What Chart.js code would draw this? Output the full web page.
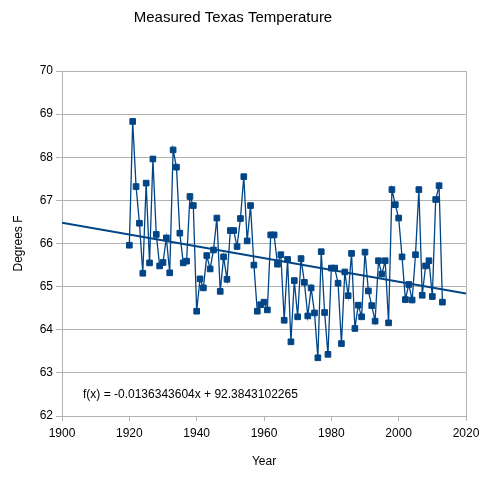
<!DOCTYPE html>
<html>
<head>
<meta charset="utf-8">
<script src="https://cdn.jsdelivr.net/npm/chart.js@4.4.1/dist/chart.umd.min.js"></script>
<style>
  html, body { margin: 0; padding: 0; background: #ffffff; }
  #wrap { width: 489px; height: 481px; }
</style>
</head>
<body>
<div id="wrap"><canvas id="c" width="489" height="481"></canvas></div>
<script>
const years = [1920,1921,1922,1923,1924,1925,1926,1927,1928,1929,
  1930,1931,1932,1933,1934,1935,1936,1937,1938,1939,
  1940,1941,1942,1943,1944,1945,1946,1947,1948,1949,
  1950,1951,1952,1953,1954,1955,1956,1957,1958,1959,
  1960,1961,1962,1963,1964,1965,1966,1967,1968,1969,
  1970,1971,1972,1973,1974,1975,1976,1977,1978,1979,
  1980,1981,1982,1983,1984,1985,1986,1987,1988,1989,
  1990,1991,1992,1993,1994,1995,1996,1997,1998,1999,
  2000,2001,2002,2003,2004,2005,2006,2007,2008,2009,
  2010,2011,2012,2013];
const temps = [65.96,68.83,67.32,66.47,65.31,67.40,65.55,67.96,66.21,65.48,
  65.56,66.13,65.32,68.17,67.77,66.24,65.55,65.59,67.09,66.88,
  64.43,65.18,64.97,65.72,65.41,65.85,66.59,64.89,65.69,65.17,
  66.30,66.30,65.93,66.58,67.55,66.06,66.88,65.50,64.43,64.58,
  64.64,64.46,66.20,66.20,65.52,65.74,64.22,65.63,63.72,65.14,
  64.30,65.65,65.10,64.32,64.97,64.39,63.35,65.81,64.40,63.43,
  65.43,65.43,65.08,63.68,65.34,64.79,65.77,64.03,64.57,64.30,
  65.80,64.90,64.56,64.20,65.60,65.29,65.60,64.16,67.25,66.90,
  66.59,65.69,64.70,65.05,64.69,65.74,67.25,64.80,65.48,65.60,
  64.77,67.02,67.34,64.64];
const trendSlope = -0.0136343604;
const trendIntercept = 92.3843102265;
const trendYears = [1900, 2020];
const xTicks = [1900, 1920, 1940, 1960, 1980, 2000, 2020];
const yTicks = [62, 63, 64, 65, 66, 67, 68, 69, 70];
const titleText = 'Measured Texas Temperature';
const xTitle = 'Year';
const yTitle = 'Degrees F';
const equationText = 'f(x) = -0.0136343604x + 92.3843102265';

const BLUE = '#004586';
const GRID = '#b3b3b3';
const FONT = "'Liberation Sans', Arial, sans-serif";

const points = years.map((y, i) => ({ x: y, y: temps[i] }));
const trend = trendYears.map(y => ({ x: y, y: trendSlope * y + trendIntercept }));

const framePlugin = {
  id: 'frame',
  beforeDatasetsDraw(chart) {
    const { ctx, chartArea: a } = chart;
    ctx.save();
    ctx.strokeStyle = GRID;
    ctx.lineWidth = 1;
    ctx.beginPath();
    ctx.moveTo(Math.round(a.right) + 0.5, a.top);
    ctx.lineTo(Math.round(a.right) + 0.5, a.bottom);
    ctx.stroke();
    ctx.restore();
  },
  afterDraw(chart) {
    const { ctx, chartArea: a } = chart;
    ctx.save();
    ctx.fillStyle = '#000';
    ctx.font = '12px ' + FONT;
    ctx.textBaseline = 'middle';
    ctx.textAlign = 'left';
    ctx.fillText(equationText, a.left + 21, a.bottom - 21);
    ctx.restore();
  }
};

new Chart(document.getElementById('c'), {
  type: 'scatter',
  data: {
    datasets: [
      {
        data: points,
        showLine: true,
        borderColor: BLUE,
        borderWidth: 1.3,
        backgroundColor: BLUE,
        pointStyle: 'rect',
        pointRadius: 4,
        pointBorderWidth: 1,
        pointBorderColor: BLUE,
        pointBackgroundColor: BLUE,
        order: 2
      },
      {
        data: trend,
        showLine: true,
        borderColor: BLUE,
        borderWidth: 2,
        pointRadius: 0,
        order: 1
      }
    ]
  },
  options: {
    responsive: false,
    animation: false,
    layout: { padding: { left: 0, right: 23, top: 0, bottom: 0 } },
    plugins: {
      legend: { display: false },
      tooltip: { enabled: false },
      title: {
        display: true,
        text: titleText,
        color: '#000',
        font: { family: FONT, size: 15, weight: 'normal', lineHeight: 1.2 },
        padding: { top: 9, bottom: 44 }
      }
    },
    scales: {
      x: {
        type: 'linear',
        min: 1900,
        max: 2020,
        afterBuildTicks(scale) { scale.ticks = xTicks.map(v => ({ value: v })); },
        afterFit(scale) { scale.height = 65; },
        ticks: {
          color: '#000',
          font: { family: FONT, size: 12 },
          padding: 5,
          maxRotation: 0,
          autoSkip: false,
          callback: v => String(v)
        },
        grid: { drawOnChartArea: false, drawTicks: true, tickLength: 5, color: GRID },
        border: { display: true, color: GRID },
        title: {
          display: true,
          text: xTitle,
          color: '#000',
          font: { family: FONT, size: 12, lineHeight: 1.2 },
          padding: { top: 0, bottom: 12 }
        }
      },
      y: {
        min: 62,
        max: 70,
        afterBuildTicks(scale) { scale.ticks = yTicks.map(v => ({ value: v })); },
        afterFit(scale) { scale.width = 62; },
        ticks: {
          color: '#000',
          font: { family: FONT, size: 12 },
          padding: 3,
          autoSkip: false,
          callback: v => String(v)
        },
        grid: { color: GRID, tickLength: 6 },
        border: { display: true, color: GRID },
        title: {
          display: true,
          text: yTitle,
          color: '#000',
          font: { family: FONT, size: 12, lineHeight: 1.2 },
          padding: { top: 11, bottom: 0 }
        }
      }
    }
  },
  plugins: [framePlugin]
});
</script>
</body>
</html>
